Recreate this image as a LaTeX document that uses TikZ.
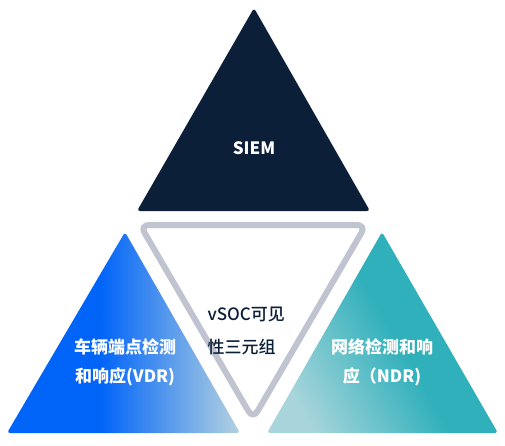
\documentclass[tikz,border=0pt]{standalone}
\usepackage{fontspec}
\newfontfamily\cjk{Noto Sans CJK SC}
\newfontfamily\cjkmed{Noto Sans CJK SC Medium}
\definecolor{siemnavy}{HTML}{0B1F38}
\definecolor{vdrblue}{HTML}{0064F8}
\definecolor{vdrlight}{HTML}{B4D2E0}
\definecolor{ndrteal}{HTML}{30B0BB}
\definecolor{ndrlight}{HTML}{A8D5DB}
\definecolor{socgray}{HTML}{C0C4D0}
\pgfdeclarehorizontalshading{vdrfade}{100bp}{color(0bp)=(vdrblue); color(25bp)=(vdrblue); color(45bp)=(vdrblue); color(75bp)=(vdrlight); color(100bp)=(vdrlight)}
\pgfdeclarehorizontalshading{ndrfade}{100bp}{color(0bp)=(ndrlight); color(25bp)=(ndrlight); color(52bp)=(ndrteal); color(100bp)=(ndrteal)}
\tikzset{
  tri/.style={rounded corners=3pt},
  trilabel/.style={font=\cjk\bfseries\fontsize{17}{29}\selectfont, text=white, align=center},
  soctext/.style={font=\cjkmed\fontsize{17}{33}\selectfont, text=siemnavy, align=left, anchor=west}
}

\begin{document}
\begin{tikzpicture}[x=1pt,y=-1pt]
\useasboundingbox (0,0) rectangle (505,445);
\fill[siemnavy,tri] (254,8) -- (370,211) -- (137,211) -- cycle;
\shade[shading=vdrfade,tri] (125,232) -- (240,433) -- (7,433) -- cycle;
\shade[shading=ndrfade,shading angle=30,tri] (382,232) -- (498,433) -- (267,433) -- cycle;
\draw[socgray,line width=6pt,fill=white,rounded corners=9pt] (140,225) -- (366,225) -- (253,419) -- cycle;
\node[trilabel] (siem) at (254,148) {SIEM};
\node[trilabel] (vdr) at (125,362) {车辆端点检测\\和响应(VDR)};
\node[trilabel] (ndr) at (382,362) {网络检测和响\\应（NDR)};
\node[soctext] (soc) at (204,331) {vSOC可见\\性三元组};
\end{tikzpicture}
\end{document}
